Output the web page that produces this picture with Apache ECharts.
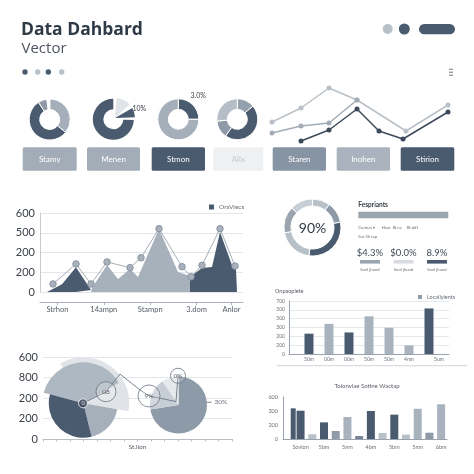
<!DOCTYPE html>
<html><head><meta charset="utf-8">
<script src="https://cdn.jsdelivr.net/npm/echarts@6/dist/echarts.min.js"></script>
<style>html,body{margin:0;padding:0;background:#fff}#c{width:474px;height:474px}</style>
</head><body><div id="c"></div>
<script>
// ---------- data ----------
const titleText = 'Data Dahbard';
const subtitleText = 'Vector';
const donut1Vals = [129, 198, 25, 8];
const donut2Ring = [92, 268];
const donut2Wedge = [5, 42, 13, 28, 272];
const donut3Vals = [90, 270];
const donut4Vals = [50, 165, 50, 95];
const donutLabels = ['10%', '3.0%'];
const buttonLabels = ['Stamy', 'Menen', 'Stmon', 'Allx', 'Staren', 'Inohen', 'Stirion'];

const lineAX = [0, 29, 57, 85, 134, 176], lineAY = [23, 37, 57, 45, 14, 40];
const lineBX = [0, 29, 57, 85], lineBY = [12, 19, 22, 45];
const lineCX = [29, 57, 85, 107, 131, 176], lineCY = [4, 15, 36, 14, 6, 33];

const areaYLabels = ['0', '200', '200', '500', '600'];
const areaXLabels = {3: 'Strhon', 11: '14ampn', 19: 'Stampn', 27: '3.dom', 33: 'Anlor'};
const areaLegend = 'OrsViecs';
const seg1X = [7, 22, 36, 51, 51], seg1V = [0, 58, 188, 15, 0];
const seg2X = [51, 52, 67, 78, 90, 98, 119, 138, 150, 150], seg2V = [0, 30, 205, 99, 175, 114, 478, 152, 122, 0];
const seg3X = [150, 150, 162, 172, 180, 193, 196, 197], seg3V = [0, 114, 182, 190, 456, 182, 170, 0];
const markX = [13, 36, 51, 67, 90, 101, 119, 142, 151, 162, 180, 195];
const markV = [61, 213, 61, 228, 185, 260, 481, 192, 116, 203, 481, 197];

const ringVals = [10, 12, 30, 20, 15, 13];
const ringText = '90%';
const statTitle = 'Fespriants';
const statRow1 = ['Cuntun \u25BE', 'Haar  Bi.ne', 'Bf.ddf'];
const statRow2 = 'Sur Sh tap';
const statValues = ['$4.3%', '$0.0%', '8.9%'];
const statSub = ['Sonl jhund', 'Sonl jhund', 'Sonl jhund'];

const midTitle = 'Onpaoplete';
const midLegend = 'Locallyients';
const midYLabels = ['0', '200', '200', '300', '500', '500', '700'];
const midXLabels = ['', '', '50m', '', '00m', '', '00m', '', '50m', '', '50m', '', '4nm', '', '', '5um', ''];
const midVals = ['-', '-', 230, '-', 341, '-', 244, '-', 427, '-', 297, '-', 97, '-', 516, '-', '-'];

const pie1Back = [130, 230], pie1Mid = [135, 225], pie1Front = [66, 119, 175];
const pie2Vals = [261, 65, 34];
const lowYLabels = ['0', '200', '200', '800', '600'];
const lowCat = ['St.lion'];
const linkX = [40, 63, 77, 97, 106, 133], linkV = [261, 346, 475, 359, 315, 274];
const stemX = [133, 135], stemV = [274, 463];
const bubbleX = [63, 106, 135], bubbleV = [346, 315, 463], bubbleLabels = ['08', '9%', '0%'];
const dotX = [40], dotV = [261], dotLabel = '0';
const calloutX = [166], calloutV = [269], calloutLabel = '30%';

const brTitle = 'Tolonvlae Sotine Wactap';
const brYLabels = ['0', '200', '300', '600'];
const brXLabels = ['', 'Sovion', '', '5bm', '', '5nm', '', '4bm', '', '5bm', '', '5nm', '', '6bm'];
const brVals = ['-', 202, 34, 119, 57, 157, 21, 200, 43, 174, 31, 216, 45, 248];
const brExtraX = [10.2], brExtraV = [219];

// ---------- styles ----------
const F = 'Lato, "Open Sans", sans-serif';
const FT = '"Open Sans", Lato, sans-serif';
const DARK = '#4a5b70', MID = '#8e9aa8', LIGHT = '#a9b3bd', LIGHTER = '#b8c0c8', PALE = '#e0e4e8';
const midColorOf = {2: DARK, 4: LIGHT, 6: DARK, 8: LIGHT, 10: LIGHT, 12: LIGHT, 14: DARK};
const brColors = [null, DARK, LIGHTER, DARK, MID, LIGHT, '#768394', DARK, LIGHTER, DARK, LIGHTER, LIGHT, MID, LIGHT];
const bubbleSizes = [20, 22, 15];
const btnLayout = [
  [22.7, 54, '#a3adb8', '#fff'], [87, 53, '#a3adb8', '#fff'], [151.7, 53.3, DARK, '#fff'],
  [213.3, 50, '#eef0f2', '#c3c9d0'], [272.7, 53.3, '#8694a3', '#fff'], [336.7, 53.3, '#aab3bd', '#fff'],
  [400.7, 53.6, DARK, '#fff']
];

const zip = (xs, ys) => xs.map((x, i) => [x, ys[i]]);
const T = 'transparent';
const pieBase = {type: 'pie', silent: true, label: {show: false}, labelLine: {show: false},
  emphasis: {disabled: true}, animation: false, clockwise: true};

function pie(center, radius, startAngle, vals, colors, border) {
  return Object.assign({}, pieBase, {
    center, radius, startAngle,
    itemStyle: {borderColor: '#fff', borderWidth: border || 0},
    data: vals.map((v, i) => ({value: v, itemStyle: {color: colors[i]}}))
  });
}

const graphic = [];
function txt(x, y, text, size, color, align, weight, font) {
  graphic.push({type: 'text', x, y, silent: true, style: {text, fontSize: size, fill: color,
    fontFamily: font || F, align: align || 'left', verticalAlign: 'middle', fontWeight: weight || 'normal'}});
}
function rect(x, y, w, h, color, r) {
  graphic.push({type: 'rect', silent: true, shape: {x, y, width: w, height: h, r: r || 0}, style: {fill: color}});
}
function circ(cx, cy, r, color) {
  graphic.push({type: 'circle', silent: true, shape: {cx, cy, r}, style: {fill: color}});
}
// header
txt(21, 30.5, titleText, 17.5, '#2f3a47', 'left', 'bold', FT);
txt(21.5, 49, subtitleText, 15, '#4f5660', 'left', 'normal', FT);
circ(387.7, 29, 5, LIGHTER); circ(404.3, 29, 5.5, DARK); rect(419, 24, 36, 10.3, DARK, 5.15);
[[25, DARK], [37.7, LIGHTER], [48.3, DARK], [61.7, LIGHTER]].forEach(d => circ(d[0], 72, 2.7, d[1]));
[68.7, 71.7, 74.7].forEach(y => rect(449, y, 4, 1, '#707780'));
// donut labels
txt(132.5, 108.5, donutLabels[0], 7, '#3a4048');
txt(190.5, 96, donutLabels[1], 7, '#3a4048');
// buttons
btnLayout.forEach((b, i) => {
  rect(b[0], 147.3, b[1], 23.5, b[2], 1.5);
  txt(b[0] + b[1] / 2, 159.3, buttonLabels[i], 8, b[3], 'center');
});
// ring text
txt(312.5, 228.5, ringText, 14, '#2f3a47', 'center');
// stats panel
txt(358.3, 204.5, statTitle, 6.5, '#3a4048', 'left', 'bold');
rect(358.3, 211.7, 90, 6.6, '#9aa5b0');
txt(358.3, 227.7, statRow1[0], 4.2, '#6a717a'); txt(381.7, 227.7, statRow1[1], 4.2, '#6a717a'); txt(406.7, 227.7, statRow1[2], 4.2, '#6a717a');
txt(358.3, 236.7, statRow2, 4.2, '#6a717a');
const statCx = [370, 403.5, 437];
const statBar = ['#9aa5b0', '#d9dde1', DARK];
statValues.forEach((s, i) => {
  txt(statCx[i], 253, s, 9.5, '#3f4a57', 'center');
  rect(statCx[i] - 10, 260, 20, 3.6, statBar[i]);
  txt(statCx[i], 269.3, statSub[i], 4.2, '#6a717a', 'center');
});
// titles
txt(275, 291.7, midTitle, 5.5, '#5a616a');
txt(367, 386, brTitle, 6, '#5a616a', 'center');
graphic.push({type: 'line', silent: true, shape: {x1: 277, y1: 365.7, x2: 467, y2: 365.7}, style: {stroke: '#c3c9cf', lineWidth: 0.8}});

// ---------- chart ----------
const chart = echarts.init(document.getElementById('c'), null, {renderer: 'canvas'});
const axisLbl = (size, color, extra) => Object.assign({fontSize: size, color, fontFamily: F}, extra || {});
const hiddenVal = (grid, min, max, pos) => ({type: 'value', gridIndex: grid, min, max, show: false, position: pos});

const option = {
  animation: false,
  backgroundColor: '#fff',
  textStyle: {fontFamily: F},
  graphic: {elements: graphic},
  legend: [
    {data: [areaLegend], left: 204, top: 198.5, itemWidth: 5, itemHeight: 5, icon: 'rect', itemGap: 3,
      textStyle: {fontSize: 6.5, color: '#666d76', fontFamily: F}, selectedMode: false},
    {data: [midLegend], left: 413, top: 289, itemWidth: 4, itemHeight: 4, icon: 'rect', itemGap: 3,
      textStyle: {fontSize: 5.5, color: '#666d76', fontFamily: F}, selectedMode: false}
  ],
  grid: [
    {left: 272, top: 80, width: 176, height: 65},
    {left: 40, top: 213, width: 203, height: 79},
    {left: 289, top: 301, width: 160, height: 53},
    {left: 43, top: 357, width: 189, height: 82},
    {left: 283, top: 397, width: 164, height: 42}
  ],
  xAxis: [
    hiddenVal(0, 0, 176, 'bottom'),                          // 0
    hiddenVal(1, 0, 203, 'top'),                             // 1
    {type: 'category', gridIndex: 1, position: 'bottom', boundaryGap: false, offset: 10,   // 2
      data: Array.from({length: 36}, (_, i) => 'a' + i),
      axisLine: {lineStyle: {color: '#aab3bd'}},
      axisTick: {interval: (i) => i in areaXLabels, length: 3, lineStyle: {color: '#aab3bd'}},
      axisLabel: axisLbl(7.5, '#555c66', {interval: (i) => i in areaXLabels, formatter: (v, i) => areaXLabels[i] || '', margin: 4})},
    {type: 'category', gridIndex: 2, position: 'bottom', boundaryGap: false,                // 3
      data: midXLabels.map((_, i) => 'm' + i),
      axisLine: {lineStyle: {color: '#9aa3ad'}}, axisTick: {show: false},
      axisLabel: axisLbl(5, '#6a717a', {interval: (i) => midXLabels[i] !== '', margin: 3,
        showMaxLabel: true, showMinLabel: true, hideOverlap: false,
        formatter: (v, i) => midXLabels[i]})},
    {type: 'value', gridIndex: 3, position: 'bottom', min: 0, max: 189, interval: 13.5,    // 4
      axisLine: {show: false}, axisLabel: {show: false}, splitLine: {show: false},
      axisTick: {show: true, length: 2.5, lineStyle: {color: '#b5bcc4'}}},
    {type: 'category', gridIndex: 3, position: 'bottom', data: lowCat,                      // 5
      axisLine: {lineStyle: {color: '#b5bcc4'}}, axisTick: {show: false},
      axisLabel: axisLbl(6.5, '#555c66', {margin: 4})},
    {type: 'category', gridIndex: 4, position: 'bottom', data: brXLabels.map((_, i) => 'b' + i),   // 6
      axisLine: {lineStyle: {color: '#9aa3ad'}}, axisTick: {show: false},
      axisLabel: axisLbl(5.5, '#6a717a', {interval: 0, margin: 5, formatter: (v, i) => brXLabels[i]})},
    hiddenVal(4, 0, 164, 'top')                              // 7
  ],
  yAxis: [
    hiddenVal(0, 0, 65, 'left'),
    {type: 'value', gridIndex: 1, min: 0, max: 600, interval: 150,
      axisLine: {show: true, lineStyle: {color: '#c5cbd1'}}, axisTick: {show: false},
      splitLine: {lineStyle: {color: '#e4e7ea'}},
      axisLabel: axisLbl(11, '#3a4048', {margin: 5, formatter: (v) => areaYLabels[Math.round(v / 150)]})},
    {type: 'value', gridIndex: 2, min: 0, max: 600, interval: 100,
      axisLine: {show: true, lineStyle: {color: '#9aa3ad'}}, axisTick: {show: false},
      splitLine: {lineStyle: {color: '#e6e9ec'}},
      axisLabel: axisLbl(5, '#6a717a', {margin: 4, formatter: (v) => midYLabels[Math.round(v / 100)]})},
    {type: 'value', gridIndex: 3, min: 0, max: 600, interval: 150,
      axisLine: {show: false}, axisTick: {show: false},
      splitLine: {lineStyle: {color: '#e4e7ea'}},
      axisLabel: axisLbl(11, '#3a4048', {margin: 5, formatter: (v) => lowYLabels[Math.round(v / 150)]})},
    {type: 'value', gridIndex: 4, min: 0, max: 300, interval: 100,
      axisLine: {show: true, lineStyle: {color: '#9aa3ad'}}, axisTick: {show: false},
      splitLine: {show: false},
      axisLabel: axisLbl(5.5, '#6a717a', {margin: 5, formatter: (v) => brYLabels[Math.round(v / 100)]})}
  ],
  series: [
    pie([49.7, 119.5], [10, 20.5], 90, donut1Vals, ['#a5afba', DARK, MID, '#fff'], 1),
    pie([113.3, 119.3], [10, 20.5], 90, donut2Ring, [T, DARK], 0),
    pie([115, 118], [1, 20], 90, donut2Wedge, [T, PALE, T, DARK, T], 0),
    pie([178.3, 119.3], [10, 20.5], 90, donut3Vals, [DARK, '#a5afba'], 1),
    pie([237.3, 119.3], [10, 20.5], 90, donut4Vals, ['#94a0ad', DARK, MID, '#b5bec7'], 1),
    {type: 'line', xAxisIndex: 0, yAxisIndex: 0, data: zip(lineAX, lineAY), symbol: 'circle', symbolSize: 5,
      itemStyle: {color: '#b9c0c8'}, lineStyle: {color: '#b9c0c8', width: 1.5}, silent: true},
    {type: 'line', xAxisIndex: 0, yAxisIndex: 0, data: zip(lineBX, lineBY), symbol: 'circle', symbolSize: 5,
      itemStyle: {color: '#a3acb6'}, lineStyle: {color: '#a3acb6', width: 1.5}, silent: true},
    {type: 'line', xAxisIndex: 0, yAxisIndex: 0, data: zip(lineCX, lineCY), symbol: 'circle', symbolSize: 5,
      itemStyle: {color: '#3d4a5a'}, lineStyle: {color: '#3d4a5a', width: 1.5}, silent: true},
    {name: areaLegend, type: 'line', xAxisIndex: 1, yAxisIndex: 1, data: zip(seg1X, seg1V), symbol: 'none',
      itemStyle: {color: DARK}, lineStyle: {width: 0}, areaStyle: {color: DARK, opacity: 1}, silent: true},
    {type: 'line', xAxisIndex: 1, yAxisIndex: 1, data: zip(seg2X, seg2V), symbol: 'none',
      lineStyle: {width: 0}, areaStyle: {color: '#a7b1bc', opacity: 1}, silent: true},
    {type: 'line', xAxisIndex: 1, yAxisIndex: 1, data: zip(seg3X, seg3V), symbol: 'none',
      lineStyle: {width: 0}, areaStyle: {color: DARK, opacity: 1}, silent: true},
    {type: 'line', xAxisIndex: 1, yAxisIndex: 1, data: zip(markX, markV), symbol: 'circle', symbolSize: 6.5,
      itemStyle: {color: '#a9b2bc', borderColor: '#8b96a2', borderWidth: 1},
      lineStyle: {color: '#8f99a4', width: 0.8}, silent: true, z: 5},
    pie([312.5, 227.5], [21.5, 28.5], 90, ringVals, [LIGHTER, MID, DARK, LIGHTER, '#9aa5b0', '#c8ced5'], 1),
    {name: midLegend, type: 'bar', xAxisIndex: 3, yAxisIndex: 2, barWidth: 9, silent: true,
      itemStyle: {color: MID},
      data: midVals.map((v, i) => ({value: v, itemStyle: {color: midColorOf[i] || MID}}))},
    pie([83.3, 403.3], [0, 46], 120, pie1Back, ['#e0e4e8', T], 0),
    pie([83.3, 403.3], [0, 41], 165, pie1Mid, ['#aeb8c2', T], 0),
    pie([83.3, 403.3], [0, 34.5], -10, pie1Front, ['#a6b0bb', DARK, T], 0),
    pie([178.5, 405], [0, 28.5], 90, pie2Vals, ['#8d9aa8', '#c8ced5', '#e6e9ec'], 0),
    {type: 'line', xAxisIndex: 4, yAxisIndex: 3, data: zip(linkX, linkV), symbol: 'none',
      lineStyle: {color: '#6b7785', width: 0.9}, silent: true, z: 6},
    {type: 'line', xAxisIndex: 4, yAxisIndex: 3, data: zip(stemX, stemV), symbol: 'none',
      lineStyle: {color: '#6b7785', width: 0.9}, silent: true, z: 6},
    {type: 'scatter', xAxisIndex: 4, yAxisIndex: 3, data: zip(bubbleX, bubbleV), silent: true, z: 7,
      symbol: 'circle', symbolSize: (v, p) => bubbleSizes[p.dataIndex],
      itemStyle: {color: 'rgba(255,255,255,0.25)', borderColor: '#6b7785', borderWidth: 1},
      label: {show: true, position: 'inside', formatter: (p) => bubbleLabels[p.dataIndex], fontSize: 6.5, color: '#3a4048', fontFamily: F}},
    {type: 'scatter', xAxisIndex: 4, yAxisIndex: 3, data: zip(dotX, dotV), silent: true, z: 8,
      symbol: 'circle', symbolSize: 9, itemStyle: {color: '#3d4a5a', borderColor: '#fff', borderWidth: 1},
      label: {show: true, position: 'inside', formatter: dotLabel, fontSize: 5.5, color: '#fff', fontFamily: F}},
    {type: 'scatter', xAxisIndex: 4, yAxisIndex: 3, data: zip(calloutX, calloutV), silent: true, z: 8,
      symbol: 'rect', symbolSize: [5, 1], itemStyle: {color: '#5a6470'},
      label: {show: true, position: 'right', distance: 3, formatter: calloutLabel, fontSize: 6.5, color: '#4a525c', fontFamily: F}},
    {type: 'bar', xAxisIndex: 7, yAxisIndex: 4, data: zip(brExtraX, brExtraV), barWidth: 5, silent: true,
      itemStyle: {color: DARK}},
    {type: 'bar', xAxisIndex: 6, yAxisIndex: 4, barWidth: 8, silent: true,
      data: brVals.map((v, i) => ({value: v, itemStyle: {color: brColors[i] || MID}}))}
  ]
};
chart.setOption(option);
</script></body></html>
